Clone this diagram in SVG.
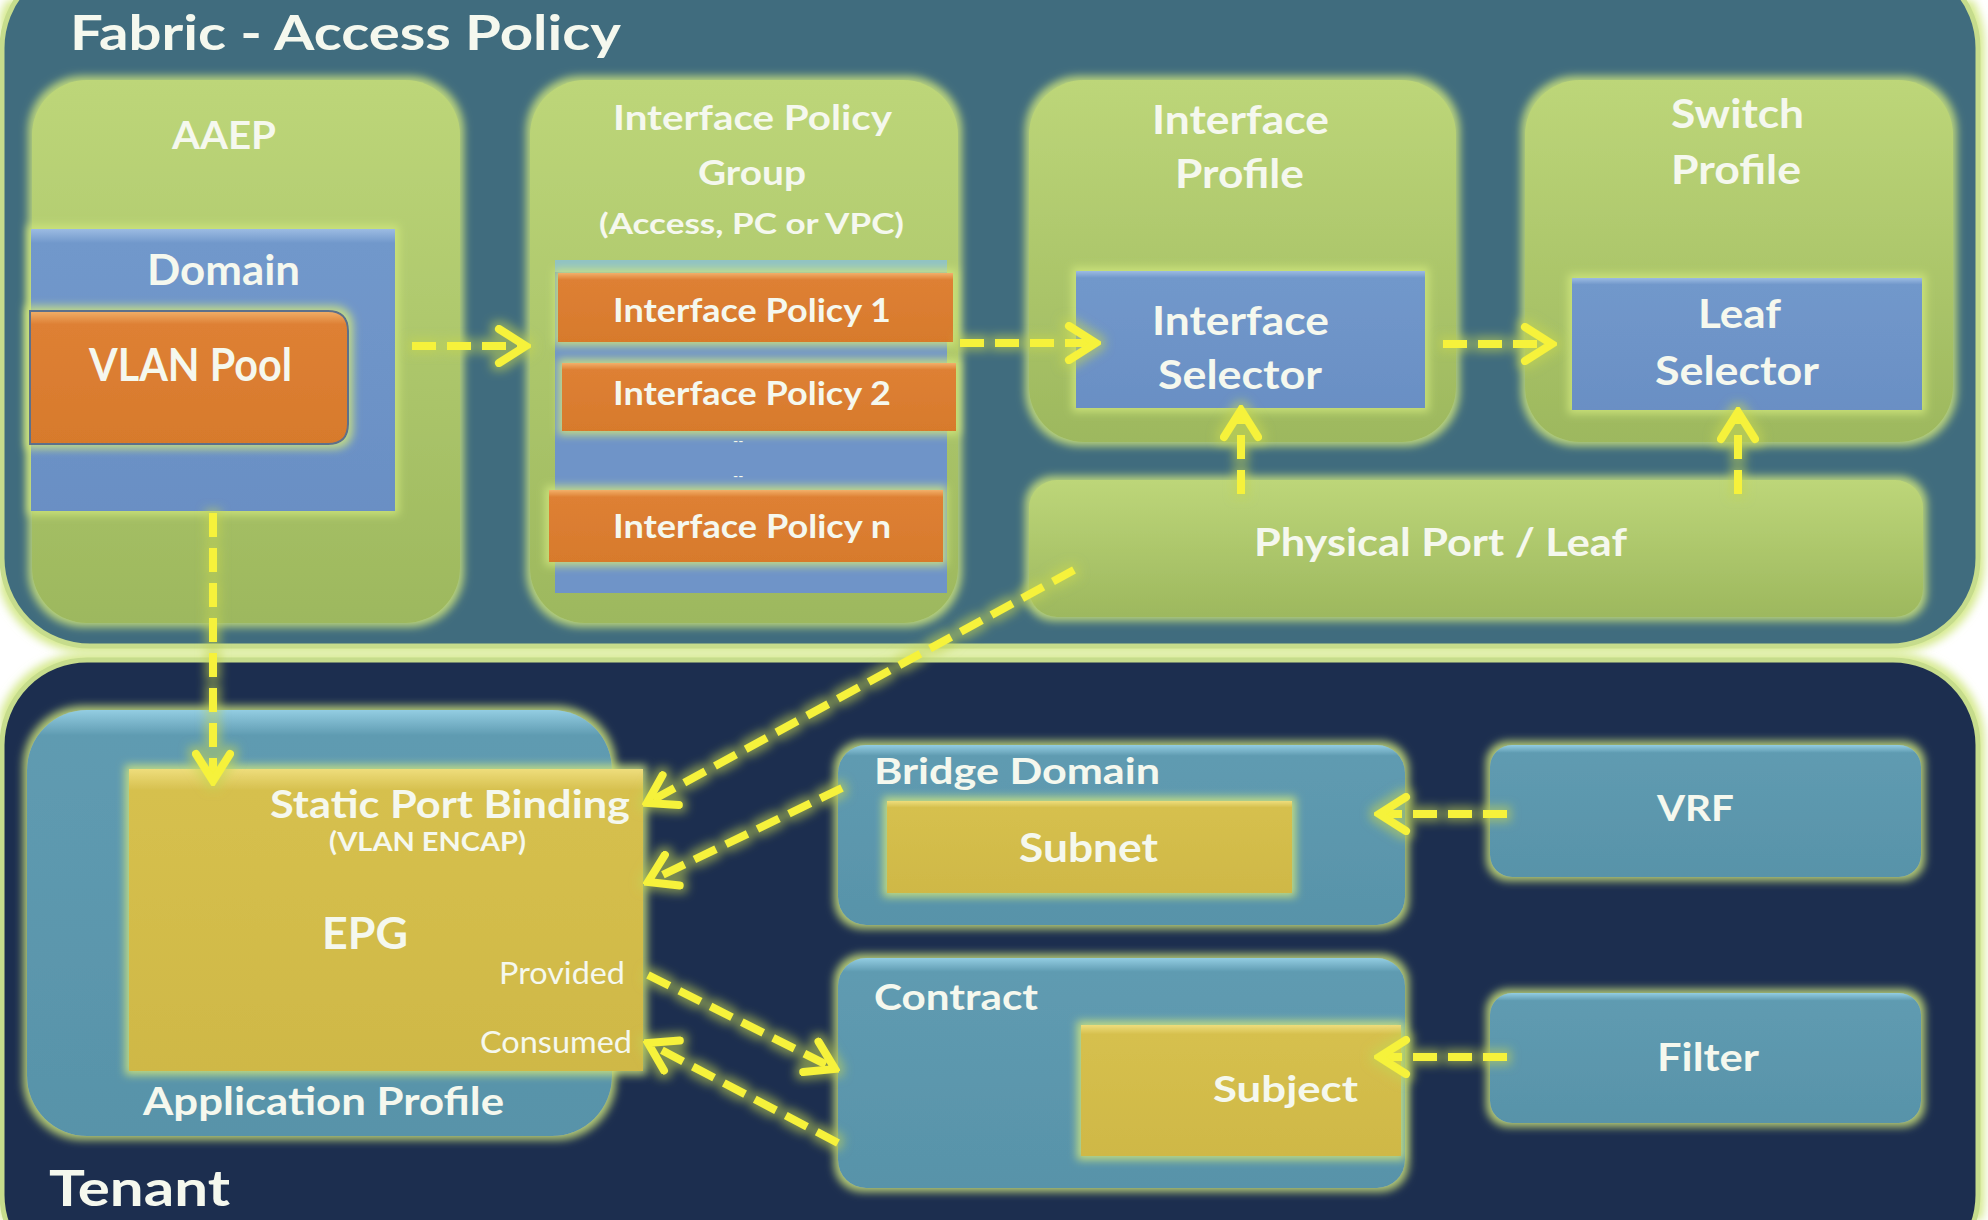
<svg xmlns="http://www.w3.org/2000/svg" width="1988" height="1220" viewBox="0 0 1988 1220">
<style>
text{font-family:Lato,"Open Sans","Liberation Sans",sans-serif;font-weight:bold;fill:#f5f8ee}
.reg{font-weight:normal}
.conn{fill:none;stroke:#f6f23a;stroke-width:8;stroke-dasharray:24 11;marker-end:url(#chev)}
</style>
<defs>
<linearGradient id="gGreen" x1="0" y1="0" x2="0" y2="1"><stop offset="0" stop-color="#bdd679"/><stop offset="1" stop-color="#9db85e"/></linearGradient>
<linearGradient id="gBlue" x1="0" y1="0" x2="0" y2="1"><stop offset="0" stop-color="#9cbbe2"/><stop offset="0.05" stop-color="#7198cb"/><stop offset="1" stop-color="#6a8fc4"/></linearGradient>
<linearGradient id="gOrange" x1="0" y1="0" x2="0" y2="1"><stop offset="0" stop-color="#f2b06a"/><stop offset="0.1" stop-color="#de8034"/><stop offset="1" stop-color="#d77a2c"/></linearGradient>
<linearGradient id="gGold" x1="0" y1="0" x2="0" y2="1"><stop offset="0" stop-color="#eedd7c"/><stop offset="0.07" stop-color="#d6c04e"/><stop offset="1" stop-color="#cfb846"/></linearGradient>
<linearGradient id="gTeal" x1="0" y1="0" x2="0" y2="1"><stop offset="0" stop-color="#93cde2"/><stop offset="0.06" stop-color="#5f9bb1"/><stop offset="1" stop-color="#5893a9"/></linearGradient>
<filter id="glow" filterUnits="userSpaceOnUse" x="0" y="0" width="1988" height="1220">
<feMorphology in="SourceAlpha" operator="dilate" radius="4" result="d"/>
<feGaussianBlur in="d" stdDeviation="4" result="b"/>
<feFlood flood-color="#cfe67c" flood-opacity="0.85"/>
<feComposite in2="b" operator="in" result="g"/>
<feMerge><feMergeNode in="g"/><feMergeNode in="SourceGraphic"/></feMerge>
</filter>
<filter id="aglow" filterUnits="userSpaceOnUse" x="0" y="0" width="1988" height="1220">
<feMorphology in="SourceAlpha" operator="dilate" radius="4" result="d"/>
<feGaussianBlur in="d" stdDeviation="5" result="b"/>
<feFlood flood-color="#c4d552" flood-opacity="0.55"/>
<feComposite in2="b" operator="in" result="g"/>
<feMerge><feMergeNode in="g"/><feMergeNode in="SourceGraphic"/></feMerge>
</filter>
<marker id="chev" viewBox="0 0 38 42" refX="33" refY="21" markerWidth="38" markerHeight="42" markerUnits="userSpaceOnUse" orient="auto">
<path d="M6,4 L33,21 L6,38" fill="none" stroke="#f6f23a" stroke-width="8" stroke-linecap="round" stroke-linejoin="miter"/>
</marker>
</defs>
<rect width="1988" height="1220" fill="#ffffff"/>

<g id="fabric">
<rect x="2" y="-40" width="1976" height="686" rx="88" fill="#406c7e" stroke="#c6dc8c" stroke-width="5" filter="url(#glow)"/>
<text x="70" y="50" font-size="48" textLength="551" lengthAdjust="spacingAndGlyphs">Fabric - Access Policy</text>
</g>
<g id="tenant">
<rect x="2" y="660" width="1976" height="620" rx="85" fill="#1e2f4f" stroke="#c6dc8c" stroke-width="5" filter="url(#glow)"/>
<text x="49" y="1206" font-size="49" textLength="181" lengthAdjust="spacingAndGlyphs">Tenant</text>
</g>

<g id="aaep">
<rect x="32" y="80" width="428" height="543" rx="55" fill="url(#gGreen)" filter="url(#glow)"/>
<text x="172" y="149" font-size="38" textLength="104" lengthAdjust="spacingAndGlyphs">AAEP</text>
</g>
<g id="domain">
<rect x="31" y="229" width="364" height="282" fill="url(#gBlue)" filter="url(#glow)"/>
<text x="147" y="285" font-size="42" textLength="153" lengthAdjust="spacingAndGlyphs">Domain</text>
</g>
<g id="vlan-pool">
<path d="M30,311 H328 Q348,311 348,331 V424 Q348,444 328,444 H30 Z" fill="url(#gOrange)" stroke="#5d6f8a" stroke-width="2" filter="url(#glow)"/>
<text x="89" y="381" font-size="46" textLength="203" lengthAdjust="spacingAndGlyphs">VLAN Pool</text>
</g>

<g id="interface-policy-group">
<rect x="530" y="80" width="428" height="543" rx="55" fill="url(#gGreen)" filter="url(#glow)"/>
<text x="613" y="130" font-size="35" textLength="279" lengthAdjust="spacingAndGlyphs">Interface Policy</text>
<text x="698" y="185" font-size="35" textLength="108" lengthAdjust="spacingAndGlyphs">Group</text>
<text x="599" y="234" font-size="28" textLength="305" lengthAdjust="spacingAndGlyphs">(Access, PC or VPC)</text>
<rect x="555" y="260" width="392" height="333" fill="#6f94c8"/>
<rect x="555" y="260" width="392" height="12" fill="#90c2c4"/>
<text x="733" y="446" font-size="14" class="reg" fill="#d8e4f4">--</text>
<text x="733" y="481" font-size="14" class="reg" fill="#d8e4f4">--</text>
</g>
<g id="interface-policy-1">
<rect x="558" y="273" width="395" height="69" fill="url(#gOrange)" filter="url(#glow)"/>
<text x="613" y="322" font-size="33" textLength="278" lengthAdjust="spacingAndGlyphs">Interface Policy 1</text>
</g>
<g id="interface-policy-2">
<rect x="562" y="363" width="394" height="68" fill="url(#gOrange)" filter="url(#glow)"/>
<text x="613" y="405" font-size="33" textLength="278" lengthAdjust="spacingAndGlyphs">Interface Policy 2</text>
</g>
<g id="interface-policy-n">
<rect x="549" y="490" width="394" height="72" fill="url(#gOrange)" filter="url(#glow)"/>
<text x="613" y="538" font-size="33" textLength="278" lengthAdjust="spacingAndGlyphs">Interface Policy n</text>
</g>

<g id="interface-profile">
<rect x="1029" y="80" width="427" height="362" rx="55" fill="url(#gGreen)" filter="url(#glow)"/>
<text x="1152" y="134" font-size="40" textLength="177" lengthAdjust="spacingAndGlyphs">Interface</text>
<text x="1175" y="188" font-size="40" textLength="129" lengthAdjust="spacingAndGlyphs">Profile</text>
</g>
<g id="interface-selector">
<rect x="1076" y="271" width="349" height="137" fill="url(#gBlue)" filter="url(#glow)"/>
<text x="1152" y="335" font-size="40" textLength="177" lengthAdjust="spacingAndGlyphs">Interface</text>
<text x="1158" y="389" font-size="40" textLength="164" lengthAdjust="spacingAndGlyphs">Selector</text>
</g>
<g id="switch-profile">
<rect x="1525" y="80" width="428" height="362" rx="55" fill="url(#gGreen)" filter="url(#glow)"/>
<text x="1671" y="128" font-size="40" textLength="133" lengthAdjust="spacingAndGlyphs">Switch</text>
<text x="1671" y="184" font-size="40" textLength="130" lengthAdjust="spacingAndGlyphs">Profile</text>
</g>
<g id="leaf-selector">
<rect x="1572" y="278" width="350" height="132" fill="url(#gBlue)" filter="url(#glow)"/>
<text x="1698" y="328" font-size="40" textLength="83" lengthAdjust="spacingAndGlyphs">Leaf</text>
<text x="1655" y="385" font-size="40" textLength="164" lengthAdjust="spacingAndGlyphs">Selector</text>
</g>
<g id="physical-port-leaf">
<rect x="1029" y="480" width="894" height="137" rx="28" fill="url(#gGreen)" filter="url(#glow)"/>
<text x="1254" y="556" font-size="39" textLength="373" lengthAdjust="spacingAndGlyphs">Physical Port / Leaf</text>
</g>

<g id="application-profile">
<rect x="27" y="710" width="585" height="426" rx="60" fill="url(#gTeal)" filter="url(#glow)"/>
<text x="143" y="1115" font-size="39" textLength="361" lengthAdjust="spacingAndGlyphs">Application Profile</text>
</g>
<g id="epg">
<rect x="129" y="769" width="514" height="302" fill="url(#gGold)" filter="url(#glow)"/>
<text x="270" y="818" font-size="39" textLength="360" lengthAdjust="spacingAndGlyphs">Static Port Binding</text>
<text x="329" y="851" font-size="26" textLength="197" lengthAdjust="spacingAndGlyphs">(VLAN ENCAP)</text>
<text x="322" y="949" font-size="43" textLength="86" lengthAdjust="spacingAndGlyphs">EPG</text>
<text x="499" y="984" font-size="30" class="reg" textLength="126" lengthAdjust="spacingAndGlyphs">Provided</text>
<text x="480" y="1053" font-size="30" class="reg" textLength="152" lengthAdjust="spacingAndGlyphs">Consumed</text>
</g>
<g id="bridge-domain">
<rect x="838" y="745" width="567" height="180" rx="28" fill="url(#gTeal)" filter="url(#glow)"/>
<text x="874" y="784" font-size="36" textLength="286" lengthAdjust="spacingAndGlyphs">Bridge Domain</text>
</g>
<g id="subnet">
<rect x="887" y="801" width="405" height="92" fill="url(#gGold)" filter="url(#glow)"/>
<text x="1019" y="862" font-size="41" textLength="139" lengthAdjust="spacingAndGlyphs">Subnet</text>
</g>
<g id="vrf">
<rect x="1490" y="745" width="431" height="132" rx="22" fill="url(#gTeal)" filter="url(#glow)"/>
<text x="1657" y="821" font-size="36" textLength="77" lengthAdjust="spacingAndGlyphs">VRF</text>
</g>
<g id="contract">
<rect x="838" y="958" width="567" height="230" rx="28" fill="url(#gTeal)" filter="url(#glow)"/>
<text x="874" y="1010" font-size="36" textLength="164" lengthAdjust="spacingAndGlyphs">Contract</text>
</g>
<g id="subject">
<rect x="1081" y="1025" width="320" height="131" fill="url(#gGold)" filter="url(#glow)"/>
<text x="1213" y="1102" font-size="36" textLength="145" lengthAdjust="spacingAndGlyphs">Subject</text>
</g>
<g id="filter">
<rect x="1490" y="993" width="431" height="130" rx="22" fill="url(#gTeal)" filter="url(#glow)"/>
<text x="1657" y="1071" font-size="39" textLength="102" lengthAdjust="spacingAndGlyphs">Filter</text>
</g>

<g id="connectors" filter="url(#aglow)">
<path class="conn" d="M412,346 L526,346"/>
<path class="conn" d="M960,343 L1096,343"/>
<path class="conn" d="M1443,344 L1552,344"/>
<path class="conn" d="M1241,494 L1241,410"/>
<path class="conn" d="M1738,494 L1738,412"/>
<path class="conn" d="M213,513 L213,781"/>
<path class="conn" d="M1074,570 L647,803"/>
<path class="conn" d="M842,788 L648,882"/>
<path class="conn" d="M648,975 L835,1069"/>
<path class="conn" d="M838,1143 L648,1043"/>
<path class="conn" d="M1507,814 L1379,814"/>
<path class="conn" d="M1507,1057 L1379,1057"/>
</g>
</svg>
